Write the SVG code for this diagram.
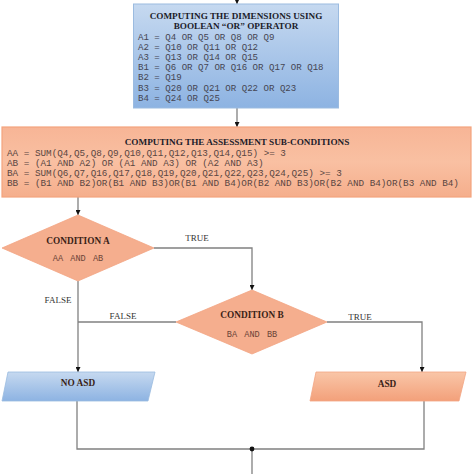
<svg xmlns="http://www.w3.org/2000/svg" width="474" height="474" viewBox="0 0 474 474">
<defs>
<linearGradient id="gBlue" x1="0" y1="0" x2="0" y2="1">
<stop offset="0" stop-color="#c6d9f0"/>
<stop offset="1" stop-color="#8db3e2"/>
</linearGradient>
<linearGradient id="gOrange" x1="0" y1="0" x2="0" y2="1">
<stop offset="0" stop-color="#f9c6a8"/>
<stop offset="1" stop-color="#f3a07a"/>
</linearGradient>
<linearGradient id="gOrangeBox" x1="0" y1="0" x2="0" y2="1">
<stop offset="0" stop-color="#f7b596"/>
<stop offset="0.5" stop-color="#f9c0a2"/>
<stop offset="1" stop-color="#f5ae8c"/>
</linearGradient>
<marker id="arr" viewBox="0 0 6 6" refX="6" refY="3" markerWidth="5" markerHeight="5" orient="auto" markerUnits="userSpaceOnUse">
<path d="M0,0 L6,3 L0,6 z" fill="#111"/>
</marker>
<style>
.title{font-family:"Liberation Serif","Times New Roman",serif;font-weight:bold;font-size:9.2px;fill:#1c1c2a;text-anchor:middle}
.mono{font-family:"Liberation Mono","Courier New",monospace;font-size:9.1px;fill:#454552}
.monoO{font-family:"Liberation Mono","Courier New",monospace;font-size:9.3px;fill:#5a4642}
.dmono{font-family:"Liberation Mono","Courier New",monospace;font-size:8.6px;word-spacing:2px;fill:#6b4438;text-anchor:middle}
.dtitle{font-family:"Liberation Serif","Times New Roman",serif;font-weight:bold;font-size:9.3px;fill:#3a1f17;text-anchor:middle}
.lbl{font-family:"Liberation Serif","Times New Roman",serif;font-size:9px;fill:#333;text-anchor:middle}
.conn{fill:none;stroke:#808080;stroke-width:1.3}
.blueBox{fill:url(#gBlue);stroke:#9bbbe0;stroke-width:1}
.orangeBox{fill:url(#gOrangeBox);stroke:#f3a47e;stroke-width:1.2}
.dia{fill:#f5ae8e;stroke:#f2a583;stroke-width:0.8}
.para{fill:url(#gOrange);stroke:#f2a583;stroke-width:0.8}
.paraB{fill:url(#gBlue);stroke:#9bbbe0;stroke-width:0.8}
</style>
</defs>
<rect width="474" height="474" fill="#ffffff"/>

<g id="connectors">
<path class="conn" d="M237,0 V4" marker-end="url(#arr)"/>
<path class="conn" d="M237,108 V127" marker-end="url(#arr)"/>
<path class="conn" d="M78,197 V215" marker-end="url(#arr)"/>
<path class="conn" d="M154,248 H252 V290" marker-end="url(#arr)"/>
<path class="conn" d="M78,281 V372" marker-end="url(#arr)"/>
<path class="conn" d="M176,322 H78"/>
<path class="conn" d="M327,322 H422 V372" marker-end="url(#arr)"/>
<path class="conn" d="M77,401 V449 H424 V401"/>
<path class="conn" d="M252,449 V474"/>
<circle cx="252" cy="449" r="2.4" fill="#111"/>
<text class="lbl" x="197" y="241">TRUE</text>
<text class="lbl" x="58" y="303">FALSE</text>
<text class="lbl" x="123" y="319">FALSE</text>
<text class="lbl" x="360" y="320">TRUE</text>
</g>

<g id="dimensions">
<rect class="blueBox" x="133.5" y="4" width="205" height="104"/>
<text class="title" x="236" y="18.5">COMPUTING THE DIMENSIONS USING</text>
<text class="title" x="236" y="28.5">BOOLEAN “OR” OPERATOR</text>
<text class="mono" x="138" y="39.5">A1 = Q4 OR Q5 OR Q8 OR Q9</text>
<text class="mono" x="138" y="49.7">A2 = Q10 OR Q11 OR Q12</text>
<text class="mono" x="138" y="59.9">A3 = Q13 OR Q14 OR Q15</text>
<text class="mono" x="138" y="70.1">B1 = Q6 OR Q7 OR Q16 OR Q17 OR Q18</text>
<text class="mono" x="138" y="80.3">B2 = Q19</text>
<text class="mono" x="138" y="90.5">B3 = Q20 OR Q21 OR Q22 OR Q23</text>
<text class="mono" x="138" y="100.7">B4 = Q24 OR Q25</text>
</g>

<g id="subconditions">
<rect class="orangeBox" x="2" y="127" width="469" height="70"/>
<text class="title" x="237" y="144.5">COMPUTING THE ASSESSMENT SUB-CONDITIONS</text>
<text class="monoO" x="7" y="155.5">AA = SUM(Q4,Q5,Q8,Q9,Q10,Q11,Q12,Q13,Q14,Q15) &gt;= 3</text>
<text class="monoO" x="7" y="165.5">AB = (A1 AND A2) OR (A1 AND A3) OR (A2 AND A3)</text>
<text class="monoO" x="7" y="175.5">BA = SUM(Q6,Q7,Q16,Q17,Q18,Q19,Q20,Q21,Q22,Q23,Q24,Q25) &gt;= 3</text>
<text class="monoO" x="7" y="185.5">BB = (B1 AND B2)OR(B1 AND B3)OR(B1 AND B4)OR(B2 AND B3)OR(B2 AND B4)OR(B3 AND B4)</text>
</g>

<g id="conditionA">
<polygon class="dia" points="78,215 154,248 78,281 2,248"/>
<text class="dtitle" x="78" y="243.5">CONDITION A</text>
<text class="dmono" x="78" y="260.5">AA AND AB</text>
</g>

<g id="conditionB">
<polygon class="dia" points="252,290 327,322 252,354 176,322"/>
<text class="dtitle" x="252" y="317.5">CONDITION B</text>
<text class="dmono" x="252" y="336.5">BA AND BB</text>
</g>

<g id="noasd">
<polygon class="paraB" points="8,372 155,372 148,401 2,401"/>
<text class="dtitle" x="78" y="386">NO ASD</text>
</g>

<g id="asd">
<polygon class="para" points="316,372 466,372 459,401 310,401"/>
<text class="dtitle" x="387" y="387">ASD</text>
</g>
</svg>
